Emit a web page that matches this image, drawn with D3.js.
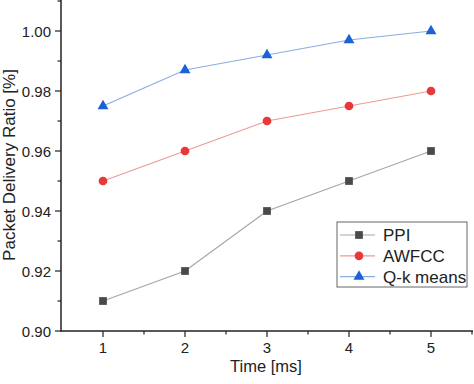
<!DOCTYPE html>
<html>
<head>
<meta charset="utf-8">
<script src="https://cdn.jsdelivr.net/npm/d3@7"></script>
<style>
  body { margin: 0; background: #fff; }
  svg { font-family: "Liberation Sans", Arial, sans-serif; }
</style>
</head>
<body>
<div id="chart"></div>
<script>
// data
const times = [1, 2, 3, 4, 5]
const ppi = [0.91, 0.92, 0.94, 0.95, 0.96]
const awfcc = [0.95, 0.96, 0.97, 0.975, 0.98]
const qkMeans = [0.975, 0.987, 0.992, 0.997, 1.0]
const yTicks = [0.90, 0.92, 0.94, 0.96, 0.98, 1.00]
const seriesNames = ['PPI', 'AWFCC', 'Q-k means']

const W = 474, H = 384
const svg = d3.select('#chart').append('svg').attr('width', W).attr('height', H)

const x = d3.scaleLinear().domain([0.5, 5.5]).range([62, 472])
const y = d3.scaleLinear().domain([0.90, 1.01]).range([331, 1])

const series = [
  { name: seriesNames[0], values: ppi, line: '#a6a6a6', fill: '#4a4a4a', symbol: d3.symbolSquare, size: 60 },
  { name: seriesNames[1], values: awfcc, line: '#ee9a96', fill: '#e8393a', symbol: d3.symbolCircle, size: 60 },
  { name: seriesNames[2], values: qkMeans, line: '#8aaee0', fill: '#1a63d6', symbol: d3.symbolTriangle, size: 52 }
]

// axes
const xAxis = svg.append('g').attr('transform', 'translate(0,' + y.range()[0] + ')')
xAxis.append('line').attr('x1', 61).attr('x2', 473).attr('stroke', '#222').attr('stroke-width', 1.5)
const xMinor = [1.5, 2.5, 3.5, 4.5, 5.5]
xAxis.selectAll('.maj').data(times).enter().append('line')
  .attr('x1', d => x(d)).attr('x2', d => x(d)).attr('y1', 0).attr('y2', 6)
  .attr('stroke', '#222').attr('stroke-width', 1.2)
xAxis.selectAll('.min').data(xMinor).enter().append('line')
  .attr('x1', d => x(d)).attr('x2', d => x(d)).attr('y1', 0).attr('y2', 3.5)
  .attr('stroke', '#222').attr('stroke-width', 1.2)
xAxis.selectAll('text').data(times).enter().append('text')
  .attr('x', d => x(d)).attr('y', 21.5).attr('text-anchor', 'middle')
  .style('font-size', '15px').attr('fill', '#222').text(d => d)

const yAxis = svg.append('g').attr('transform', 'translate(61,0)')
yAxis.append('line').attr('y1', 0).attr('y2', 331.7).attr('stroke', '#222').attr('stroke-width', 1.5)
yAxis.selectAll('.maj').data(yTicks).enter().append('line')
  .attr('y1', d => y(d)).attr('y2', d => y(d)).attr('x1', 0).attr('x2', -6)
  .attr('stroke', '#222').attr('stroke-width', 1.2)
const yMinor = [0.91, 0.93, 0.95, 0.97, 0.99, 1.01]
yAxis.selectAll('.min').data(yMinor).enter().append('line')
  .attr('y1', d => y(d)).attr('y2', d => y(d)).attr('x1', 0).attr('x2', -3.5)
  .attr('stroke', '#222').attr('stroke-width', 1.2)
yAxis.selectAll('text').data(yTicks).enter().append('text')
  .attr('x', -10).attr('y', d => y(d) + 5.5).attr('text-anchor', 'end')
  .style('font-size', '15px').attr('fill', '#222').text(d => d3.format('.2f')(d))

svg.append('text').attr('x', 266).attr('y', 371.5).attr('text-anchor', 'middle')
  .style('font-size', '16.5px').attr('fill', '#222').text('Time [ms]')
svg.append('text').attr('transform', 'translate(14.5,' + 165 + ') rotate(-90)')
  .attr('text-anchor', 'middle').style('font-size', '17px').attr('fill', '#222')
  .text('Packet Delivery Ratio [%]')

// lines + markers
const line = d3.line().x((d, i) => x(times[i])).y(d => y(d))
series.forEach(s => {
  svg.append('path').datum(s.values).attr('d', line)
    .attr('fill', 'none').attr('stroke', s.line).attr('stroke-width', 1.2)
  svg.append('g').selectAll('path').data(s.values).enter().append('path')
    .attr('d', d3.symbol().type(s.symbol).size(s.size))
    .attr('transform', (d, i) => 'translate(' + x(times[i]) + ',' + y(d) + ')')
    .attr('fill', s.fill)
})

// legend
const legend = svg.append('g').attr('transform', 'translate(337,222)')
legend.append('rect').attr('width', 130).attr('height', 65)
  .attr('fill', '#fff').attr('stroke', '#666').attr('stroke-width', 1)
series.forEach((s, i) => {
  const ly = 13 + i * 20.8
  legend.append('line').attr('x1', 3).attr('x2', 38).attr('y1', ly).attr('y2', ly)
    .attr('stroke', s.line).attr('stroke-width', 1.2)
  legend.append('path').attr('d', d3.symbol().type(s.symbol).size(s.size))
    .attr('transform', 'translate(22,' + ly + ')').attr('fill', s.fill)
  legend.append('text').attr('x', 46).attr('y', ly + 6)
    .style('font-size', '17px').attr('fill', '#222').text(s.name)
})
</script>
</body>
</html>
